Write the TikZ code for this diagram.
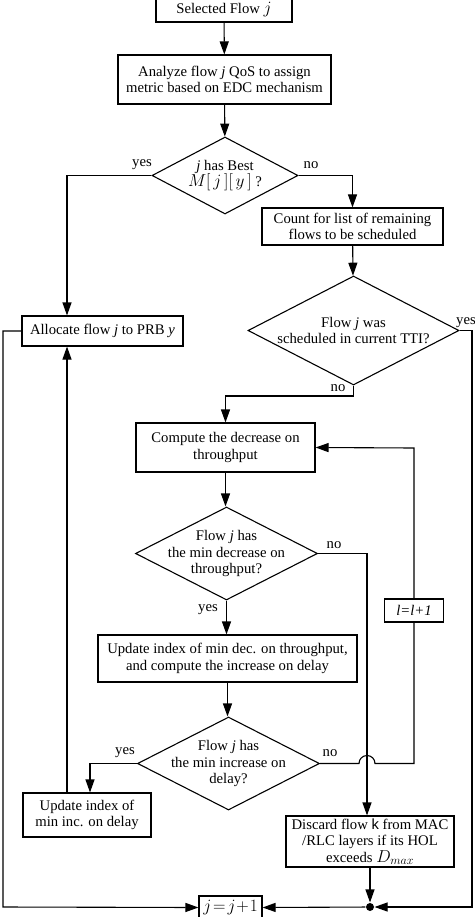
\documentclass[tikz,border=0pt]{standalone}
\usepackage{fontspec}
\setmainfont{Liberation Serif}
\newfontfamily\sansk{Liberation Sans}
\usetikzlibrary{arrows.meta,shapes.geometric,calc}
\newcommand{\mymath}[2]{{\fontsize{#1}{#1}\selectfont$#2$}}
\begin{document}
\begin{tikzpicture}[x=1pt,y=-1pt,
  font=\fontsize{14.7}{16.5}\selectfont,
  line width=1.1pt,
  box/.style={draw,rectangle,inner sep=0pt,align=center},
  dia/.style={draw,diamond,inner sep=0pt},
  dtext/.style={align=center,inner sep=0pt},
  arr/.style={-{Triangle[length=13pt,width=9pt]}},
  lbl/.style={inner sep=0pt,anchor=center}]
\useasboundingbox (0,0) rectangle (474,917);

% boxes
\node[box,minimum width=136pt,minimum height=24pt] (sel) at (224,10) {Selected Flow \mymath{17}{j}};
\node[box,minimum width=213pt,minimum height=49pt] (ana) at (224.5,79.5) {Analyze flow \textit{j} QoS to assign\\metric based on EDC mechanism};
\node[dia,minimum width=146pt,minimum height=77pt] (d1) at (225,175.5) {};
\node[dtext] at (d1) {\textit{j} has Best\\\mymath{18}{M[\,j\,][\,y\,]} ?};
\node[box,minimum width=181pt,minimum height=37pt] (cnt) at (352.5,226.5) {Count for list of remaining\\flows to be scheduled};
\node[dia,minimum width=211pt,minimum height=109pt] (d2) at (353.5,330.5) {};
\node[dtext] at (d2) {Flow \textit{j} was\\scheduled in current TTI?};
\node[box,minimum width=161pt,minimum height=30pt] (alloc) at (102.5,331) {Allocate flow \textit{j} to PRB \textit{y}};
\node[box,minimum width=179pt,minimum height=49pt] (comp) at (225.5,447.5) {Compute the decrease on\\throughput};
\node[dia,minimum width=182pt,minimum height=93pt] (d3) at (226.5,553.5) {};
\node[dtext] at (d3) {Flow \textit{j} has\\the min decrease on\\throughput?};
\node[box,minimum width=259pt,minimum height=47pt] (upd1) at (227.5,658.5) {Update index of min dec. on throughput,\\and compute the increase on delay};
\node[box,minimum width=59pt,minimum height=23pt,fill=white] (lbox) at (414,610.5) {\textit{l=l+1}};
\node[dia,minimum width=182pt,minimum height=93pt] (d4) at (228.5,763.5) {};
\node[dtext] at (d4) {Flow \textit{j} has\\the min increase on\\delay?};
\node[box,minimum width=128pt,minimum height=44pt] (upd2) at (87,815) {Update index of\\min inc. on delay};
\node[box,minimum width=168pt,minimum height=51pt] (disc) at (370,841.5) {Discard flow {\sansk k} from MAC\\/RLC layers if its HOL\\exceeds \mymath{18}{D_{max}}};
\node[box,minimum width=63pt,minimum height=23pt] (jj) at (230.5,907.5) {\mymath{17}{j\!=\!j\!+\!1}};
\node[circle,fill,inner sep=0pt,minimum size=8pt] (dot) at (370,907) {};

% coordinates
\coordinate (yA) at (67,175.5);
\coordinate (yB) at (67,793);
\coordinate (lA) at (3,331);
\coordinate (lB) at (3,907);
\coordinate (r1) at (472,330.5);
\coordinate (r2) at (472,907);
\coordinate (n2) at (353.5,396);
\coordinate (n3) at (367,553.5);
\coordinate (y4) at (90,763.5);
\coordinate (h1) at (359,763.5);
\coordinate (n4) at (414,763.5);
\coordinate (lp) at (414,448);

% connectors
\draw[arr] (sel) -- (ana);
\draw[arr] (ana) -- (d1);
\draw[arr] (d1.west) -- (yA) -- (yA |- alloc.north);
\draw[arr] (d1.east) -| (cnt.north);
\draw[arr] (cnt) -- (d2);
\draw[arr] (d2.east) -- (r1) -- (r2) -- (dot);
\draw[arr] (d2.south) -- (n2) -| (comp.north);
\draw[arr] (comp) -- (comp.south |- d3.north);
\draw[arr] (d3.east) -- (n3) -- (n3 |- disc.north);
\draw[arr] (d3.south) -- (d3.south |- upd1.north);
\draw[arr] (upd1.south) -- (upd1.south |- d4.north);
\draw[arr] (d4.west) -- (y4) -- (y4 |- upd2.north);
\draw (d4.east) -- (h1) arc[start angle=180,end angle=0,radius=8pt] -- (n4) -- (lbox.south);
\draw[arr] (lbox.north) -- (lp) -- (comp.east);
\draw[arr] (yB) -- (yB |- alloc.south);
\draw[arr] (alloc.west) -- (lA) -- (lB) -- (jj.west);
\draw[arr] (disc.south) -- (dot);
\draw[arr] (dot) -- (jj.east);

% labels
\node[lbl] at (142,165) {yes};
\node[lbl] at (311,165) {no};
\node[lbl] at (466,323) {yes};
\node[lbl] at (338,388) {no};
\node[lbl] at (334,545) {no};
\node[lbl] at (208,610) {yes};
\node[lbl] at (125,753) {yes};
\node[lbl] at (330,753) {no};
\end{tikzpicture}
\end{document}
